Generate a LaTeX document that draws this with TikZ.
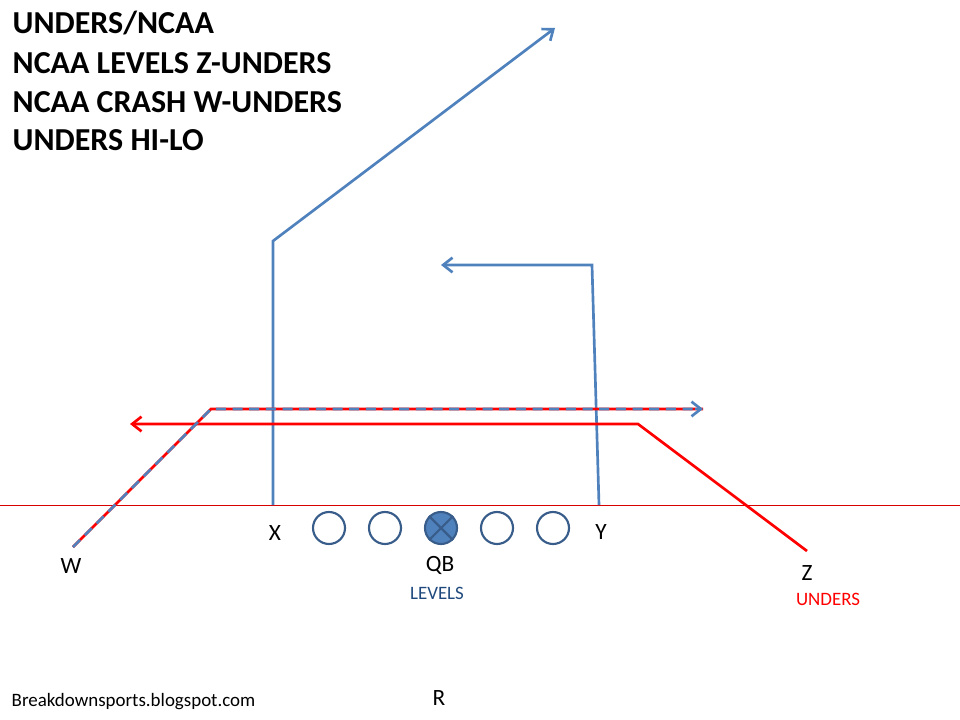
\documentclass[tikz,border=0pt]{standalone}
\usepackage{fontspec}
\setmainfont{Carlito}
\usetikzlibrary{arrows.meta}
\definecolor{routeblue}{HTML}{4F81BD}
\definecolor{lineblue}{HTML}{385D8A}
\definecolor{levelblue}{HTML}{1F497D}
\tikzset{
  route/.style={routeblue, line width=2pt},
  redroute/.style={red, line width=2pt},
  tip/.style={-{Straight Barb[length=7pt,width=11pt]}},
  lineman/.style={circle, draw=lineblue, line width=1.6pt, minimum size=24pt, inner sep=0pt},
  lbl/.style={font=\fontsize{17.5}{20}\selectfont},
  small/.style={font=\fontsize{14.2}{16}\selectfont},
  titel/.style={anchor=west, font=\bfseries\fontsize{24}{27}\selectfont}
}
\begin{document}
\begin{tikzpicture}[x=0.75pt,y=-0.75pt]
  \useasboundingbox (0,0) rectangle (960,720);

  % titel
  \node[titel] (t1) at (8,23) {UNDERS/NCAA};
  \node[titel] (t2) at (8,63) {NCAA LEVELS Z-UNDERS};
  \node[titel] (t3) at (8,102) {NCAA CRASH W-UNDERS};
  \node[titel] (t4) at (8,140) {UNDERS HI-LO};

  % line of scrimmage
  \coordinate (losl) at (0,505);
  \coordinate (losr) at (960,505);
  \draw[red!85!black, line width=0.6pt] (losl) -- (losr);

  % linemen + QB
  \node[lineman] (lt) at (329,528) {};
  \node[lineman] (lg) at (385,528) {};
  \node[lineman, fill=routeblue] (c) at (441,528) {};
  \draw[lineblue, line width=1.6pt] (c.north west) -- (c.south east) (c.north east) -- (c.south west);
  \node[lineman] (rg) at (497,528) {};
  \node[lineman] (rt) at (553,528) {};

  % popisky hracu
  \node[lbl] (x) at (275,533) {X};
  \node[lbl] (y) at (601,532) {Y};
  \node[lbl] (w) at (71,566) {W};
  \node[lbl] (qb) at (440,565) {QB};
  \node[small, levelblue] (lev) at (437,593) {LEVELS};
  \node[lbl] (z) at (807,573) {Z};
  \node[small, red] (und) at (828,599) {UNDERS};
  \node[lbl] (r) at (439,698) {R};
  \node[small, anchor=west] (blog) at (7,702) {Breakdownsports.blogspot.com};

  % X
  \coordinate (x0) at (273,505);
  \coordinate (x1) at (273,241);
  \coordinate (x2) at (555,28);
  \draw[route, tip] (x0) -- (x1) -- (x2);

  % Y
  \coordinate (y0) at (599,505);
  \coordinate (y1) at (592,265);
  \coordinate (y2) at (441,265);
  \draw[route, tip] (y0) -- (y1) -- (y2);

  % Z
  \coordinate (z0) at (807,551);
  \coordinate (z1) at (638,424);
  \coordinate (z2) at (130,424);
  \draw[redroute, tip] (z0) -- (z1) -- (z2);

  % W
  \coordinate (w0) at (73,547);
  \coordinate (w1) at (211,409);
  \coordinate (w2) at (703,409);
  \draw[redroute] (w0) -- (w1) -- (w2);
  \draw[route, dash pattern=on 7.5pt off 5pt] (w0) -- (w1) -- ([xshift=-2pt]w2);
  \draw[route, tip] ([xshift=-6pt]w2) -- (w2);
\end{tikzpicture}
\end{document}
